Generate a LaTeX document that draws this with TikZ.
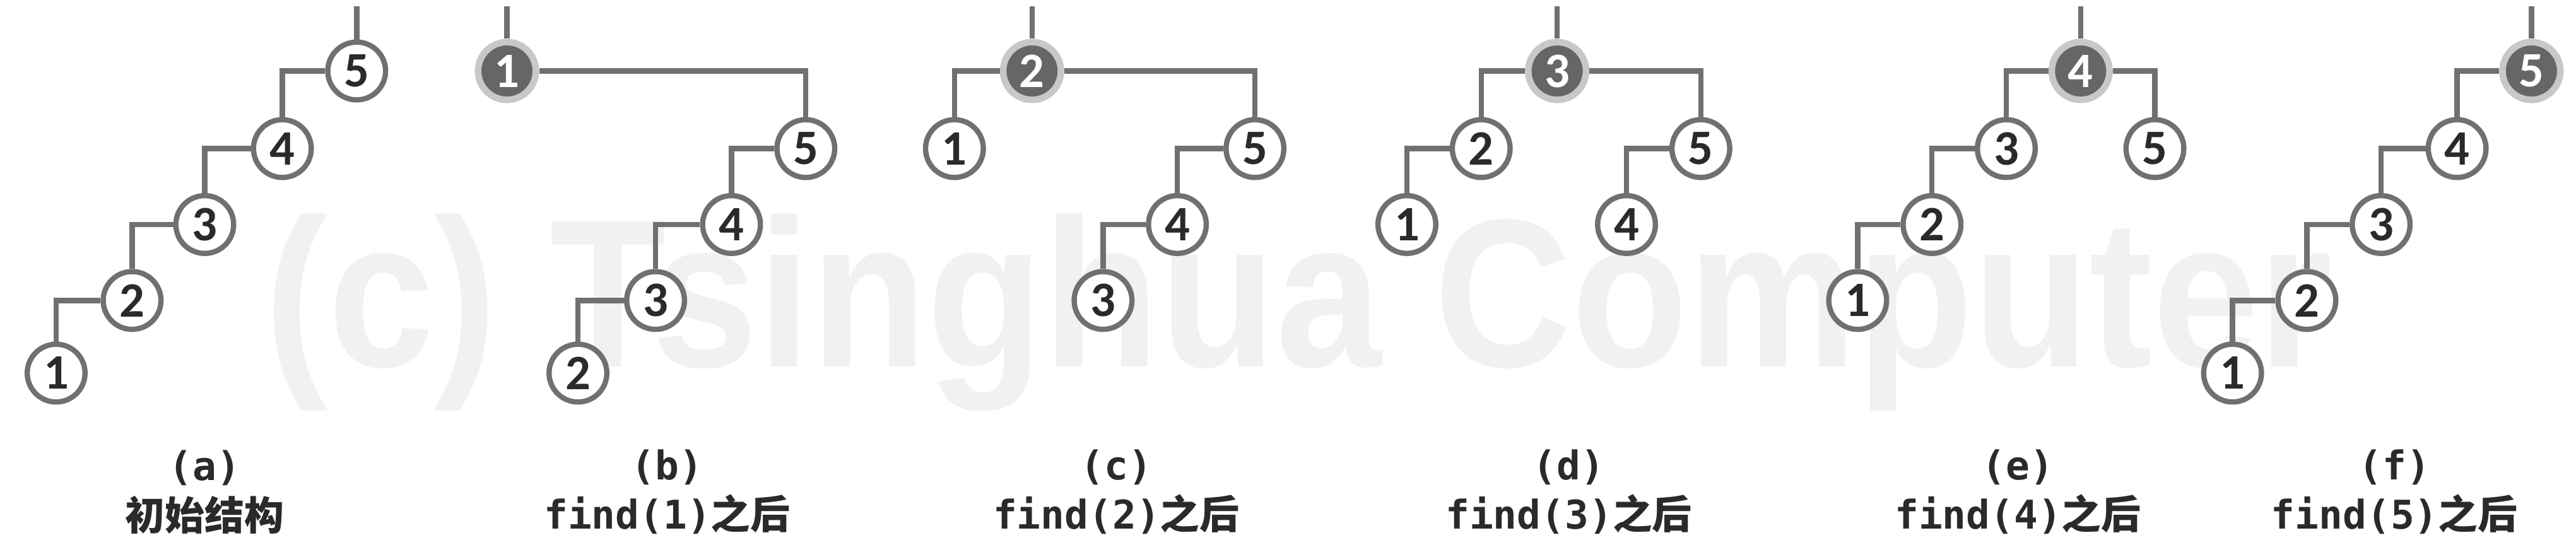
\documentclass[tikz,border=0pt]{standalone}
\usepackage{fontspec}
\setmainfont{Carlito}
\newfontfamily\cjk{Noto Sans CJK SC}
\newfontfamily\monof{DejaVu Sans Mono}
\newfontfamily\wmf{Liberation Sans}
\definecolor{edge}{HTML}{707070}
\definecolor{dark}{HTML}{666666}
\definecolor{ring}{HTML}{C8C8C8}
\definecolor{wm}{HTML}{F1F1F1}
\definecolor{txt}{HTML}{2A2A2A}
\tikzset{
  x=0.5pt,y=-0.5pt,
  nd/.style={circle,draw=edge,line width=1.6pt,fill=white,minimum size=17.5pt,inner sep=0pt,
    font=\bfseries\fontsize{15}{15}\selectfont,text=txt},
  hn/.style={circle,draw=ring,line width=2pt,fill=dark,minimum size=17.5pt,inner sep=0pt,
    font=\bfseries\fontsize{15}{15}\selectfont,text=white},
  ln/.style={draw=edge,line width=1.6pt},
  lab/.style={align=center,text=txt,font=\fontsize{12}{15}\selectfont}
}
\begin{document}
\begin{tikzpicture}
\useasboundingbox (0,0) rectangle (1560,330);
\node[anchor=base west,text=wm,inner sep=0pt,xscale=0.9] (wm) at (160,222)
  {\wmf\bfseries\fontsize{64}{64}\selectfont (c) Tsinghua Computer};
% (a)
\node[nd] (a5) at (216,43) {5};
\node[nd] (a4) at (171,90) {4};
\node[nd] (a3) at (124,136) {3};
\node[nd] (a2) at (80,182) {2};
\node[nd] (a1) at (34,226) {1};
\coordinate (at) at (216,4);
\draw[ln] (at) -- (a5);
\draw[ln] (a5.west) -| (a4.north);
\draw[ln] (a4.west) -| (a3.north);
\draw[ln] (a3.west) -| (a2.north);
\draw[ln] (a2.west) -| (a1.north);
% (b)
\node[hn] (b1) at (307,43) {1};
\node[nd] (b5) at (488,90) {5};
\node[nd] (b4) at (443,136) {4};
\node[nd] (b3) at (397,182) {3};
\node[nd] (b2) at (350,226) {2};
\coordinate (bt) at (307,4);
\draw[ln] (bt) -- (b1);
\draw[ln] (b1.east) -| (b5.north);
\draw[ln] (b5.west) -| (b4.north);
\draw[ln] (b4.west) -| (b3.north);
\draw[ln] (b3.west) -| (b2.north);
% (c)
\node[hn] (c2) at (625,43) {2};
\node[nd] (c1) at (578,90) {1};
\node[nd] (c5) at (760,90) {5};
\node[nd] (c4) at (713,136) {4};
\node[nd] (c3) at (668,182) {3};
\coordinate (ct) at (625,4);
\draw[ln] (ct) -- (c2);
\draw[ln] (c2.west) -| (c1.north);
\draw[ln] (c2.east) -| (c5.north);
\draw[ln] (c5.west) -| (c4.north);
\draw[ln] (c4.west) -| (c3.north);
% (d)
\node[hn] (d3) at (943,43) {3};
\node[nd] (d2) at (897,90) {2};
\node[nd] (d5) at (1030,90) {5};
\node[nd] (d1) at (852,136) {1};
\node[nd] (d4) at (985,136) {4};
\coordinate (dt) at (943,4);
\draw[ln] (dt) -- (d3);
\draw[ln] (d3.west) -| (d2.north);
\draw[ln] (d3.east) -| (d5.north);
\draw[ln] (d2.west) -| (d1.north);
\draw[ln] (d5.west) -| (d4.north);
% (e)
\node[hn] (e4) at (1260,43) {4};
\node[nd] (e3) at (1215,90) {3};
\node[nd] (e5) at (1305,90) {5};
\node[nd] (e2) at (1170,136) {2};
\node[nd] (e1) at (1125,182) {1};
\coordinate (et) at (1260,4);
\draw[ln] (et) -- (e4);
\draw[ln] (e4.west) -| (e3.north);
\draw[ln] (e4.east) -| (e5.north);
\draw[ln] (e3.west) -| (e2.north);
\draw[ln] (e2.west) -| (e1.north);
% (f)
\node[hn] (f5) at (1533,43) {5};
\node[nd] (f4) at (1488,90) {4};
\node[nd] (f3) at (1442,136) {3};
\node[nd] (f2) at (1397,182) {2};
\node[nd] (f1) at (1352,226) {1};
\coordinate (ft) at (1533,4);
\draw[ln] (ft) -- (f5);
\draw[ln] (f5.west) -| (f4.north);
\draw[ln] (f4.west) -| (f3.north);
\draw[ln] (f3.west) -| (f2.north);
\draw[ln] (f2.west) -| (f1.north);
% labels
\node[lab] (la) at (124,298) {\monof\bfseries (a)\\\cjk\bfseries 初始结构};
\node[lab] (lb) at (404,298) {\monof\bfseries (b)\\\monof\bfseries find(1)\cjk\bfseries 之后};
\node[lab] (lc) at (676,298) {\monof\bfseries (c)\\\monof\bfseries find(2)\cjk\bfseries 之后};
\node[lab] (ld) at (950,298) {\monof\bfseries (d)\\\monof\bfseries find(3)\cjk\bfseries 之后};
\node[lab] (le) at (1222,298) {\monof\bfseries (e)\\\monof\bfseries find(4)\cjk\bfseries 之后};
\node[lab] (lf) at (1450,298) {\monof\bfseries (f)\\\monof\bfseries find(5)\cjk\bfseries 之后};
\end{tikzpicture}
\end{document}
